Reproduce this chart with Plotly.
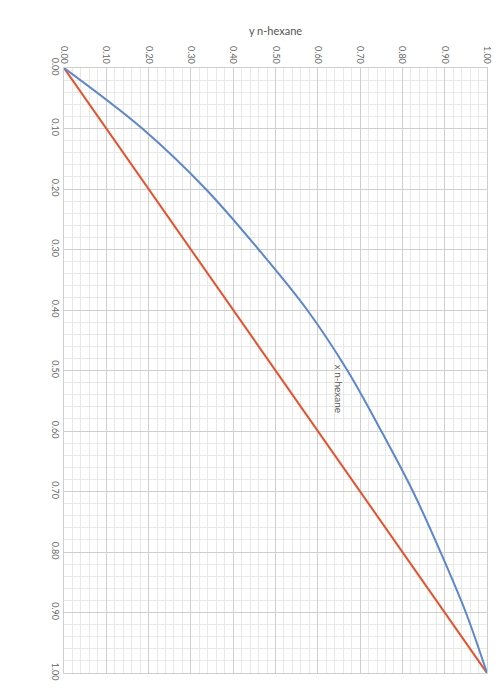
import plotly.graph_objects as go

x_liquid = [0, 0.1, 0.2, 0.3, 0.4, 0.5, 0.6, 0.7, 0.8, 0.9, 1.0]
y_vapor = [0, 0.185, 0.335, 0.46, 0.575, 0.67, 0.75, 0.825, 0.89, 0.95, 1.0]
diag = [0, 1]
ticks = [i/10 for i in range(11)]
labels = ["%.2f" % t for t in ticks]

fig = go.Figure()
fig.add_trace(go.Scatter(x=diag, y=diag, mode="lines", line=dict(color="#e8502a", width=2)))
fig.add_trace(go.Scatter(x=y_vapor, y=x_liquid, mode="lines", line=dict(color="#5b86d0", width=2, shape="spline")))

fig.update_layout(
    width=503, height=700, showlegend=False,
    paper_bgcolor="white", plot_bgcolor="white",
    margin=dict(l=56, r=24, t=60, b=35),
    font=dict(family="Lato", size=9, color="#666"),
    xaxis=dict(range=[0, 1], side="top", tickvals=ticks, ticktext=labels, tickangle=90,
               showgrid=True, gridcolor="#cfcfcf", minor=dict(dtick=0.02, showgrid=True, gridcolor="#e8e8e8"),
               zeroline=False, showline=True, linecolor="#cfcfcf", mirror=True,
               title=dict(text="y n-hexane", font=dict(size=11, color="#555"), standoff=8)),
    yaxis=dict(range=[1, 0], tickvals=ticks, ticktext=labels, tickangle=90,
               showgrid=True, gridcolor="#cfcfcf", minor=dict(dtick=0.02, showgrid=True, gridcolor="#e8e8e8"),
               zeroline=False, showline=True, linecolor="#cfcfcf", mirror=True),
    annotations=[dict(text="x n-hexane", x=0.65, y=0.47, xref="paper", yref="paper",
                      showarrow=False, textangle=90, font=dict(size=10, color="#555"))],
)
fig.write_html("out.html")
